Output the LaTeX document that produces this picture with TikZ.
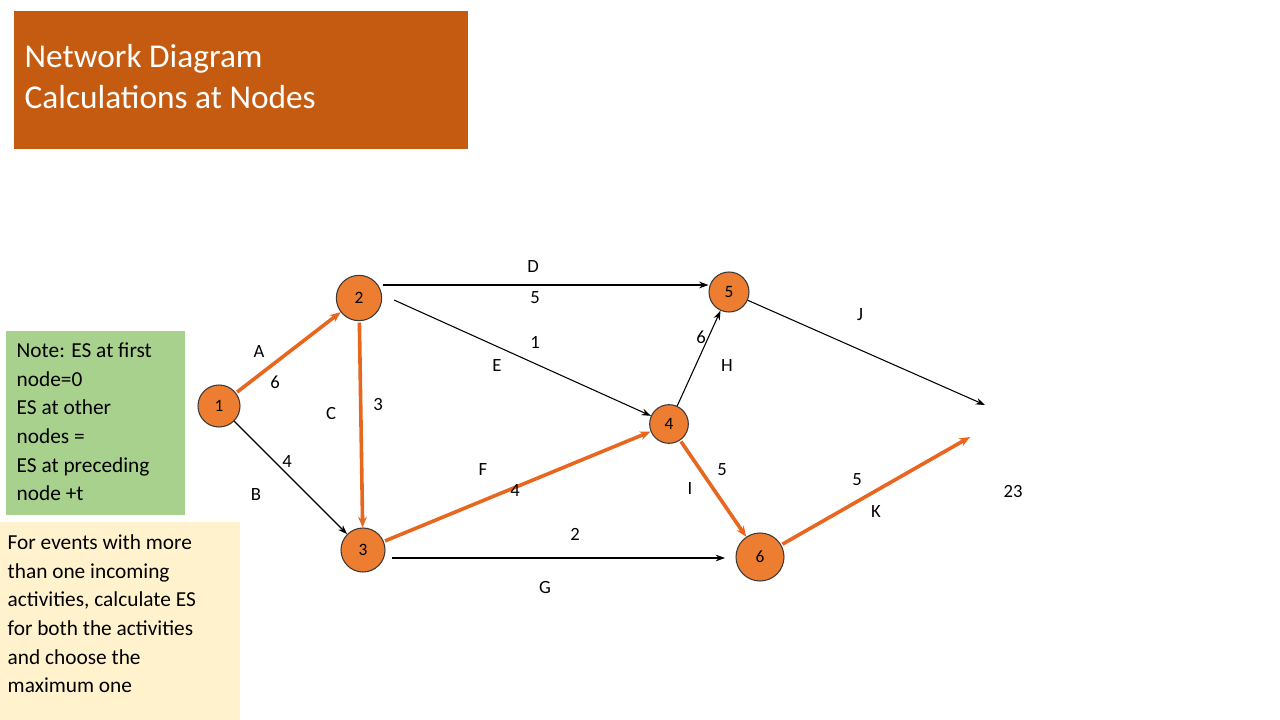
\documentclass[tikz,border=0pt]{standalone}
\usepackage{fontspec}
\setmainfont{Carlito}
\usetikzlibrary{arrows.meta}
\definecolor{tbox}{HTML}{C55A11}
\definecolor{nfill}{HTML}{ED7D31}
\definecolor{cline}{HTML}{E8661E}
\definecolor{nline}{HTML}{3A3A3A}
\definecolor{gbox}{HTML}{A9D18E}
\definecolor{ybox}{HTML}{FFF2CC}
\tikzset{
 ev/.style={circle,fill=nfill,draw=nline,line width=0.8pt,inner sep=0pt,font=\fontsize{13}{13}\selectfont},
 blk/.style={-{Stealth[length=7pt,width=5pt]},line width=0.8pt,black},
 crit/.style={-{Stealth[length=8pt,width=6.5pt]},line width=2.7pt,cline,shorten <=1pt},
 lab/.style={font=\fontsize{14}{14}\selectfont}
}
\begin{document}
\begin{tikzpicture}[x=0.75pt,y=-0.75pt]
\useasboundingbox (0,0) rectangle (1280,720);
\fill[white] (0,0) rectangle (1280,720);
\fill[tbox] (14,11) rectangle (468,149);
\node[anchor=north west,white,align=left,font=\fontsize{25}{30.5}\selectfont] (title) at (20,40) {Network Diagram\\Calculations at Nodes};
\fill[gbox] (6,331) rectangle (185,515);
\node[anchor=north west,align=left,font=\fontsize{16}{21.5}\selectfont] (note) at (12,338) {Note: ES at first\\node=0\\ES at other\\nodes =\\ES at preceding\\node +t};
\fill[ybox] (0,522) rectangle (240,720);
\node[anchor=north west,align=left,font=\fontsize{16}{21.5}\selectfont] (tip) at (3,530) {For events with more\\than one incoming\\activities, calculate ES\\for both the activities\\and choose the\\maximum one};
\node[ev,minimum size=31.5pt] (n1) at (219,406) {1};
\node[ev,minimum size=34pt] (n2) at (359,298) {2};
\node[ev,minimum size=33pt] (n3) at (363,550) {3};
\node[ev,minimum size=29pt] (n4) at (669,424) {4};
\node[ev,minimum size=30pt] (n5) at (729,292) {5};
\node[ev,minimum size=36pt] (n6) at (760,557) {6};
\coordinate (endJ) at (985,405);
\coordinate (endK) at (970,437);
\draw[crit] (n1) -- (n2);
\draw[blk] (n1) -- (n3);
\draw[crit] (n2) -- (n3);
\draw[blk] (383,285) -- (n5.west|-383,285);
\draw[blk] (394,300) -- (n4);
\draw[crit] (n3) -- (n4);
\draw[blk] (392,558) -- (725,558);
\draw[blk] (n4) -- (n5);
\draw[crit] (n4) -- (n6);
\draw[blk] (n5) -- (endJ);
\draw[crit] (n6) -- (endK);
\node[lab] at (259,352) {A}; \node[lab] at (275,382) {6};
\node[lab] at (287,462) {4}; \node[lab] at (256,495) {B};
\node[lab] at (331,414) {C}; \node[lab] at (378,405) {3};
\node[lab] at (533,267) {D}; \node[lab] at (535,298) {5};
\node[lab] at (535,342) {1}; \node[lab] at (497,366) {E};
\node[lab] at (483,470) {F}; \node[lab] at (515,491) {4};
\node[lab] at (575,534) {2}; \node[lab] at (545,588) {G};
\node[lab] at (701,337) {6}; \node[lab] at (727,366) {H};
\node[lab] at (722,470) {5}; \node[lab] at (690,489) {I};
\node[lab] at (860,315) {J};
\node[lab] at (857,480) {5}; \node[lab] at (876,512) {K};
\node[lab] at (1013,492) {23};
\end{tikzpicture}
\end{document}
